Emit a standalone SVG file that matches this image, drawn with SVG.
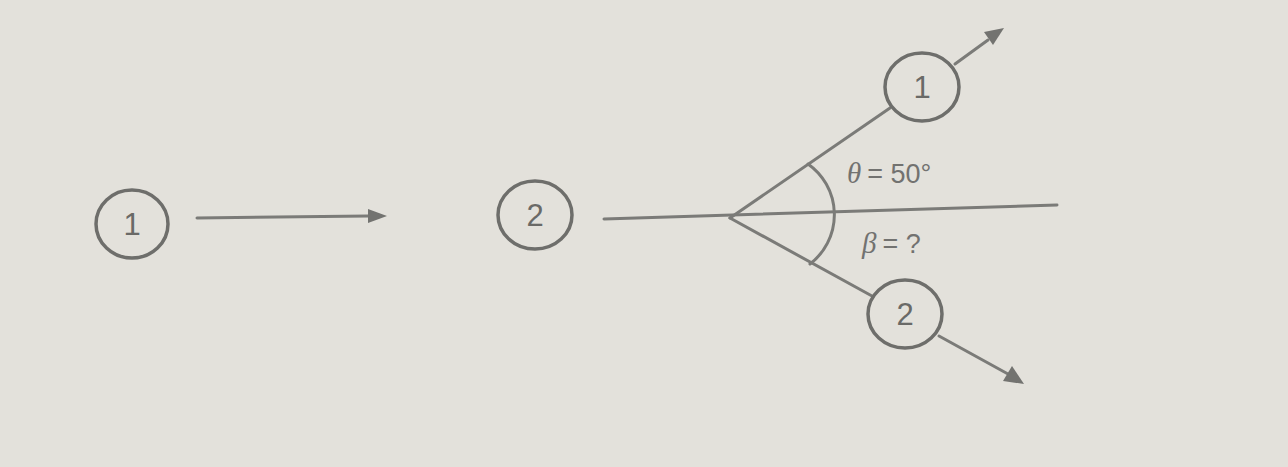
<svg xmlns="http://www.w3.org/2000/svg" width="1288" height="467" viewBox="0 0 1288 467">
<defs>
<style>
.ln{stroke:#7b7b78;stroke-width:3;fill:none;stroke-linecap:round}
.nd{stroke:#6e6e6b;stroke-width:3.5;fill:none}
.num{font-family:"Liberation Sans",Arial,sans-serif;font-size:31px;fill:#6a6a67;text-anchor:middle}
.lbl{font-family:"Liberation Sans",Arial,sans-serif;font-size:27px;fill:#727270}
.gr{font-family:"Liberation Serif","Times New Roman",serif;font-style:italic;font-size:29px;fill:#727270}
.hd{fill:#737370}
</style>
</defs>
<rect width="1288" height="467" fill="#e3e1db"/>
<g id="connectors">
<line class="ln" x1="197" y1="218" x2="368" y2="216"/>
<path class="hd" d="M368,209 L387,216 L368,223 z"/>
<line class="ln" x1="604" y1="219" x2="1057" y2="205"/>
<line class="ln" x1="730" y1="218" x2="890" y2="108"/>
<line class="ln" x1="955" y1="64" x2="988" y2="40"/>
<path class="hd" d="M984,32 L1004,28 L993,45 z"/>
<line class="ln" x1="730" y1="218" x2="872" y2="296"/>
<line class="ln" x1="939" y1="336" x2="1008" y2="374"/>
<path class="hd" d="M1003,381 L1024,384 L1012,366 z"/>
<path class="ln" d="M808,164 A62,62 0 0 1 810,264"/>
</g>
<g id="node-1-left">
<ellipse class="nd" cx="132" cy="224" rx="36" ry="34"/>
<text class="num" x="132" y="235">1</text>
</g>
<g id="node-2-left">
<ellipse class="nd" cx="535" cy="215" rx="37" ry="34"/>
<text class="num" x="535" y="226">2</text>
</g>
<g id="node-1-right">
<ellipse class="nd" cx="922" cy="87" rx="37" ry="34"/>
<text class="num" x="922" y="98">1</text>
</g>
<g id="node-2-right">
<ellipse class="nd" cx="905" cy="314" rx="37" ry="34"/>
<text class="num" x="905" y="325">2</text>
</g>
<g id="labels">
<text x="847" y="183"><tspan class="gr">θ</tspan><tspan class="lbl" dx="6">= 50°</tspan></text>
<text x="862" y="253"><tspan class="gr">β</tspan><tspan class="lbl" dx="6">= ?</tspan></text>
</g>
</svg>
